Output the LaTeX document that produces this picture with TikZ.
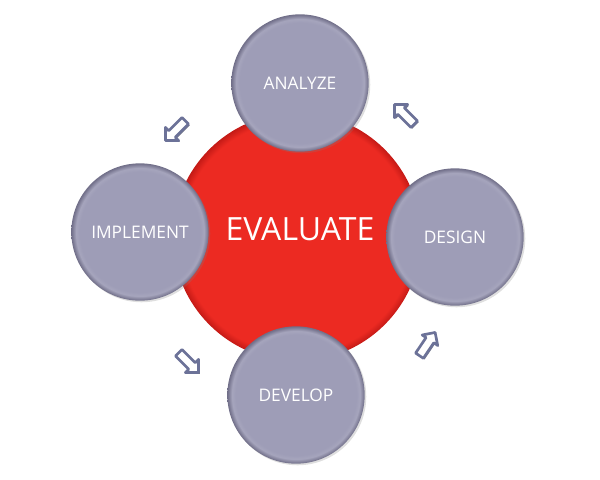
\documentclass[tikz,border=0pt]{standalone}
\usepackage{fontspec}
\setmainfont{Open Sans}
\usepackage{xcolor}
\usetikzlibrary{shapes.arrows,shadows}
\definecolor{stepgray}{RGB}{158,157,183}
\definecolor{stepdark}{RGB}{112,110,136}
\definecolor{hubred}{RGB}{236,42,34}
\definecolor{hubdark}{RGB}{196,26,22}
\definecolor{arrowblue}{RGB}{108,114,152}
\pgfdeclareradialshading{steprim}{\pgfpoint{0bp}{0bp}}{color(0bp)=(stepgray); color(22bp)=(stepgray); color(23.3bp)=(stepgray!92!white); color(25bp)=(stepdark); color(50bp)=(stepdark)}
\pgfdeclareradialshading{hubrim}{\pgfpoint{0bp}{0bp}}{color(0bp)=(hubred); color(23.5bp)=(hubred); color(25bp)=(hubdark); color(50bp)=(hubdark)}

\begin{document}
\begin{tikzpicture}[x=0.75pt,y=-0.75pt,line cap=round,line join=round,
	hub/.style={circle,shading=hubrim,minimum size=186pt,inner sep=0pt},
	hubtext/.style={text=white,font=\fontsize{24}{28}\selectfont},
	stepcircle/.style={circle,shading=steprim,minimum size=103pt,inner sep=0pt,
		text=white,font=\fontsize{13}{15}\selectfont,
		drop shadow={shadow xshift=1.2pt,shadow yshift=-1.2pt,opacity=0.25}},
	cyclearrow/.style={single arrow,draw=arrowblue,fill=white,line width=2pt,
		inner sep=2.5pt,single arrow head extend=3.5pt,minimum height=21pt,
		drop shadow={shadow xshift=0.9pt,shadow yshift=-0.9pt,fill=arrowblue!55!black,opacity=0.7}}]
	\useasboundingbox (0,0) rectangle (600,479);
	% centre
	\node [hub] (hub) at (297,237) {};
	\node [hubtext] (evaluate) at (300,229) {EVALUATE};
	% steps
	\node [stepcircle] (analyze) at (300,83) {ANALYZE};
	\node [stepcircle] (implement) at (140,232) {IMPLEMENT};
	\node [stepcircle] (design) at (455,237) {DESIGN};
	\node [stepcircle] (develop) at (296,395) {DEVELOP};
	% arrows
	\node [cyclearrow,rotate=225] (toimplement) at (177,129) {};
	\node [cyclearrow,rotate=135] (toanalyze) at (406,116) {};
	\node [cyclearrow,rotate=-45] (todevelop) at (187,361) {};
	\node [cyclearrow,rotate=56] (todesign) at (426,346) {};
\end{tikzpicture}
\end{document}
